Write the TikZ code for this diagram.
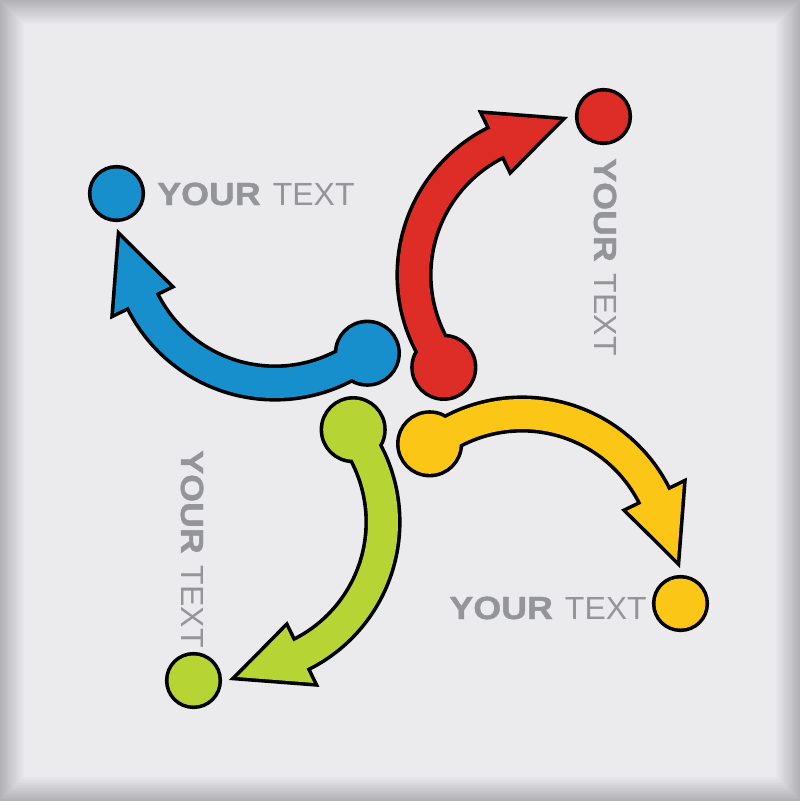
\documentclass[tikz,border=0pt]{standalone}
\usepackage{fontspec}
\usepackage{tikz}
\newfontfamily\heavyfont{Liberation Sans}[FakeStretch=1.12,BoldFeatures={FakeBold=1.3}]
\newfontfamily\lightfont{Liberation Sans}
\definecolor{bgcol}{RGB}{235,235,238}
\definecolor{edgecol}{RGB}{178,178,183}
\definecolor{txtgray}{RGB}{148,149,153}
\definecolor{swblue}{RGB}{22,143,204}
\definecolor{swred}{RGB}{222,45,38}
\definecolor{swyellow}{RGB}{251,198,22}
\definecolor{swgreen}{RGB}{182,212,52}
% one curved arrow with its blob and its end dot, drawn round (0,0)
\newcommand{\swirlbody}{(52:150) circle (30) (52:163) arc (52:154:163) -- (154:179) -- (-155,2) .. controls (-137,20) .. (154:117) -- (154:133) arc (154:52:133) -- cycle (-158.5,-41.5) circle (25)}
\newcommand{\yourtext}{{\heavyfont\bfseries YOUR}\hspace{9pt}{\lightfont TEXT}}

\begin{document}
\begin{tikzpicture}[x=0.75pt,y=0.75pt,yscale=-1,xscale=1,
  outline/.style={draw=black,line width=5.4pt,line join=miter},
  label text/.style={text=txtgray,inner sep=0pt,font=\fontsize{24}{24}\selectfont}]

%Shape: Background frame
\foreach \k in {0,...,12}{
  \pgfmathsetmacro\p{\k*100/12}
  \fill[bgcol!\p!edgecol] ({2*\k},{2*\k}) rectangle ({800-2*\k},{801-2*\k});
}

%Shape: Blue arrow
\begin{scope}[shift={(275,235)}]
\path[outline] \swirlbody;
\fill[swblue] \swirlbody;
\end{scope}
%Shape: Red arrow
\begin{scope}[rotate around={90:(398.5,398.5)},shift={(275,235)}]
\path[outline] \swirlbody;
\fill[swred] \swirlbody;
\end{scope}
%Shape: Yellow arrow
\begin{scope}[rotate around={180:(398.5,398.5)},shift={(275,235)}]
\path[outline] \swirlbody;
\fill[swyellow] \swirlbody;
\end{scope}
%Shape: Green arrow
\begin{scope}[rotate around={270:(398.5,398.5)},shift={(275,235)}]
\path[outline] \swirlbody;
\fill[swgreen] \swirlbody;
\end{scope}

% Text Node
\node[label text,anchor=base west] (txtblue) at (157,205) {\yourtext};
% Text Node
\node[label text,anchor=base west,rotate=-90] (txtred) at (594,158) {\yourtext};
% Text Node
\node[label text,anchor=base east] (txtyellow) at (647,619) {\yourtext};
% Text Node
\node[label text,anchor=base west,rotate=-90] (txtgreen) at (181,450) {\yourtext};
\end{tikzpicture}
\end{document}
